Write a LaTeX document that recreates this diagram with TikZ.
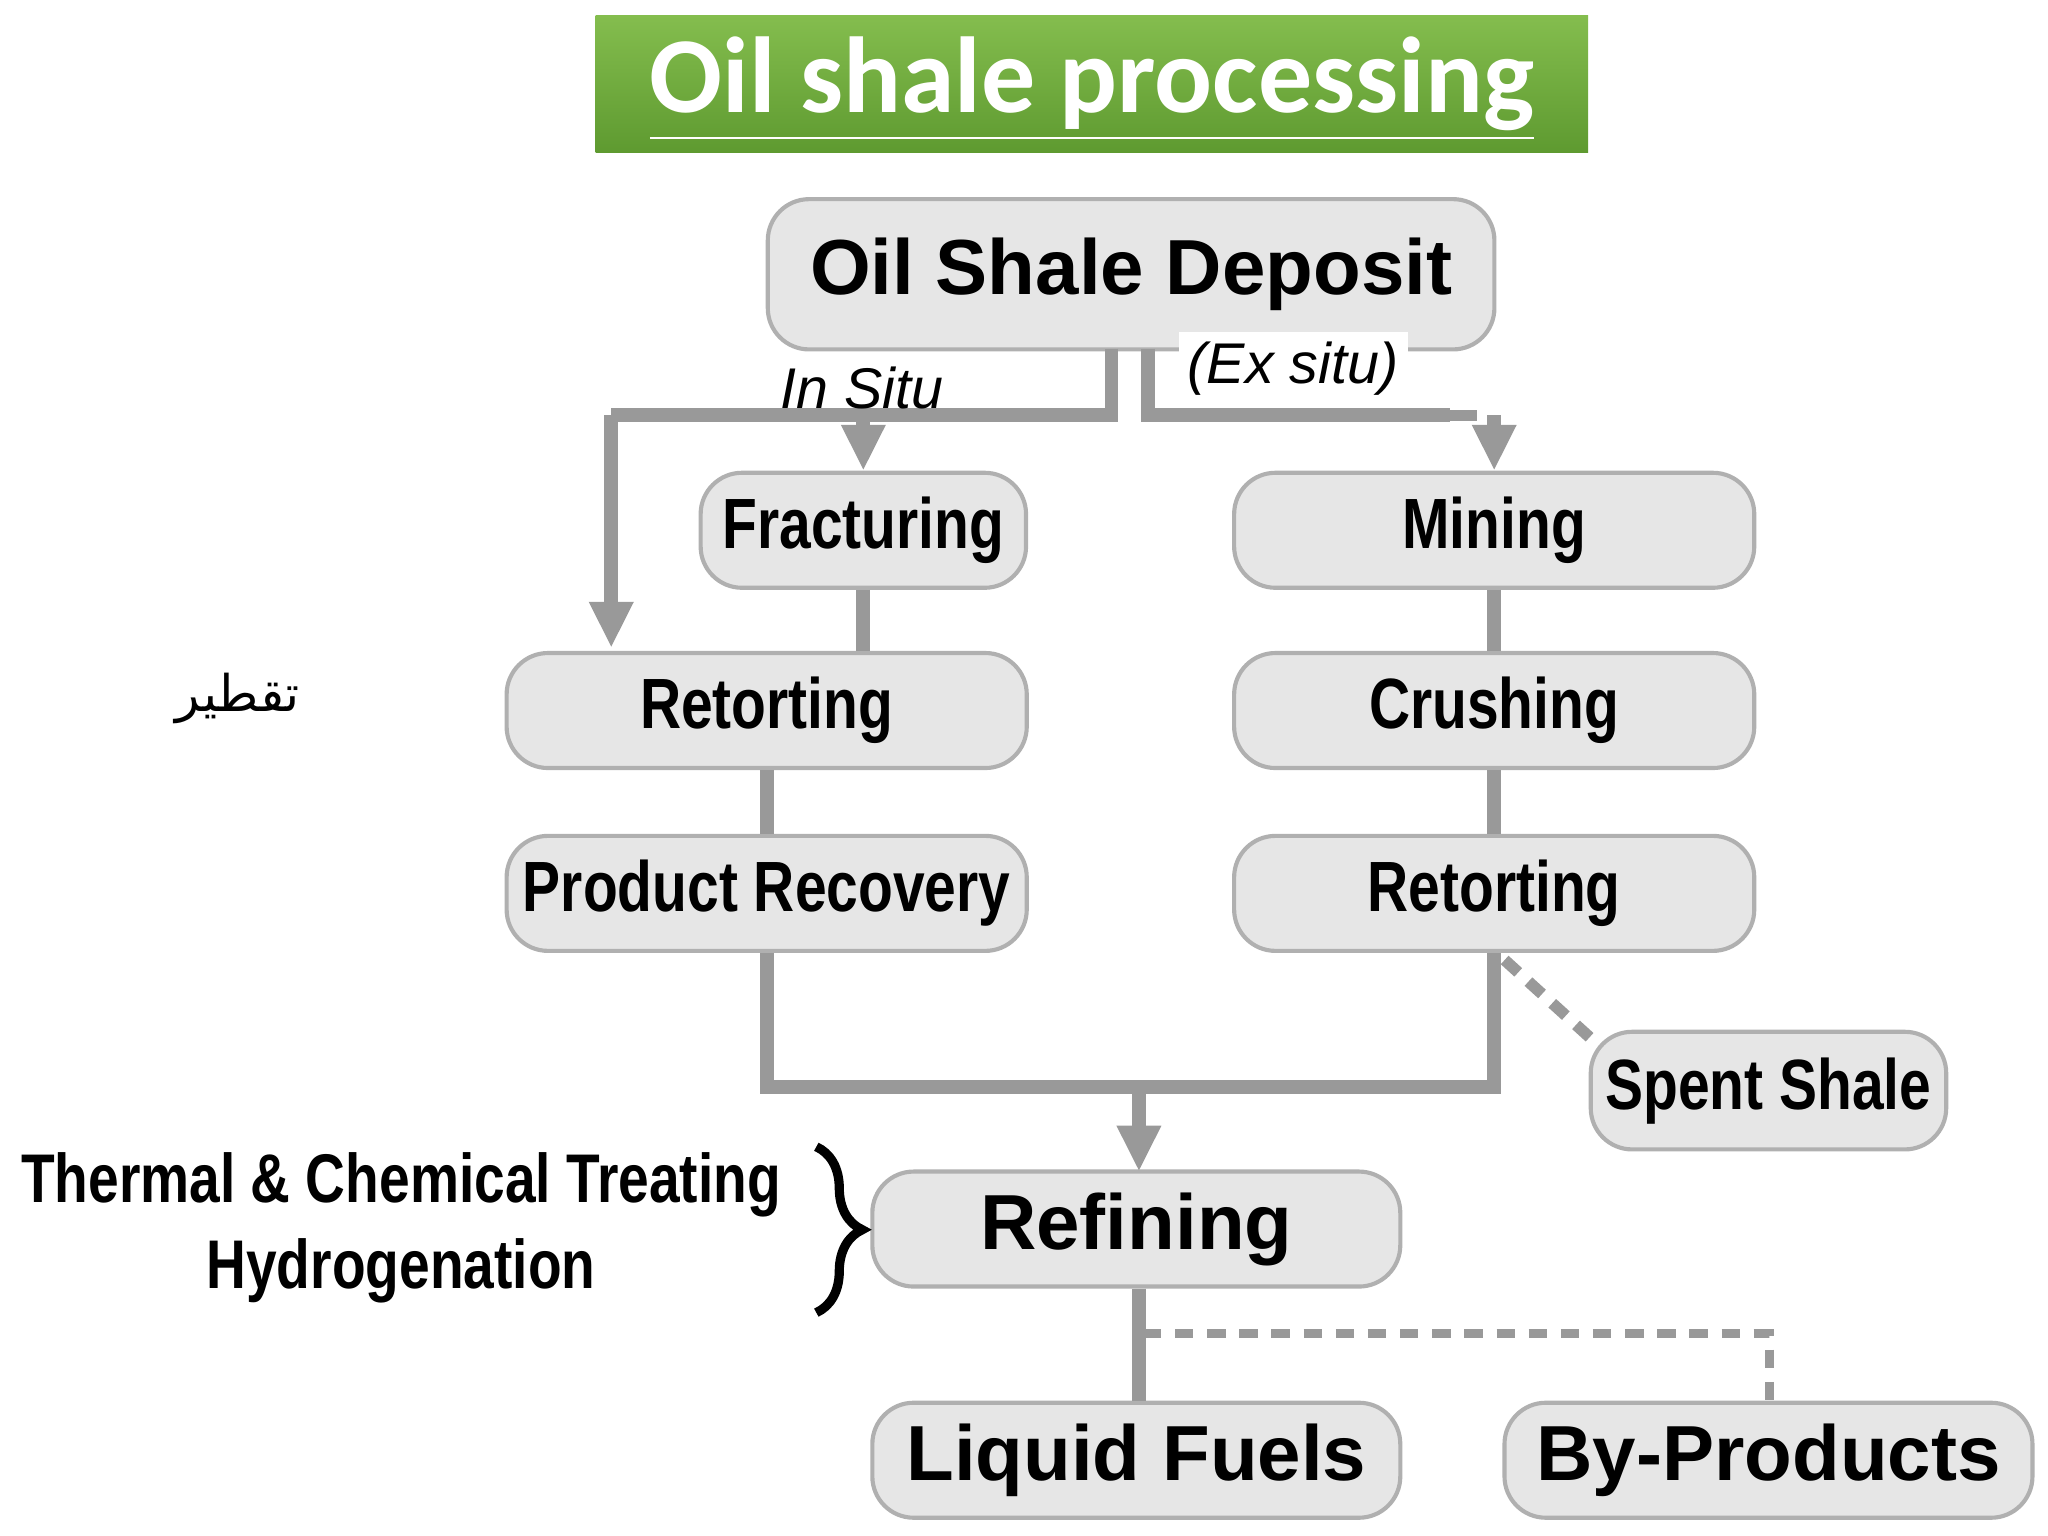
\documentclass[tikz,border=0pt]{standalone}
\usepackage{fontspec}
\setmainfont{Liberation Sans}
\newfontfamily\cond[FakeStretch=0.8]{Liberation Sans}
\newfontfamily\titlefont{Carlito}
\newfontfamily\arabicfont[Script=Arabic]{DejaVu Sans}
\TeXXeTstate=1
\usetikzlibrary{arrows.meta,decorations.pathreplacing}
\definecolor{boxfill}{HTML}{E6E6E6}
\definecolor{boxline}{HTML}{B0B0B0}
\definecolor{conn}{HTML}{999999}
\definecolor{gtop}{HTML}{84BD4E}
\definecolor{gbot}{HTML}{5E9A30}
\tikzset{
 bx/.style={draw=boxline,line width=0.9pt,fill=boxfill,rounded corners=9pt,inner sep=0pt,font=\bfseries},
 cn/.style={draw=conn,line width=3pt},
 ar/.style={cn,-{Triangle[width=9pt,length=10pt]}},
 ds/.style={cn,line width=2.5pt,dash pattern=on 6pt off 4pt},
}
\begin{document}
\begin{tikzpicture}[x=0.01cm,y=-0.01cm]
\useasboundingbox (0,0) rectangle (1568,1176);
\fill[white] (0,0) rectangle (1568,1176);
% title
\shade[top color=gtop, bottom color=gbot] (456,12) rectangle (1216,117);
\node (title) at (836,68) {\titlefont\bfseries\fontsize{23.5}{28}\selectfont\color{white}\underline{Oil shale processing}};
% boxes
\node[bx,minimum width=5.56cm,minimum height=1.15cm] (dep) at (866,210) {\fontsize{17}{20}\selectfont Oil Shale Deposit};
\node[bx,minimum width=2.49cm,minimum height=0.88cm] (frac) at (661,406) {\cond\fontsize{15.5}{18}\selectfont Fracturing};
\node[bx,minimum width=3.98cm,minimum height=0.88cm] (mine) at (1144,406) {\cond\fontsize{15.5}{18}\selectfont Mining};
\node[bx,minimum width=3.98cm,minimum height=0.88cm] (retL) at (587,544) {\cond\fontsize{15.5}{18}\selectfont Retorting};
\node[bx,minimum width=3.98cm,minimum height=0.88cm] (crush) at (1144,544) {\cond\fontsize{15.5}{18}\selectfont Crushing};
\node[bx,minimum width=3.98cm,minimum height=0.88cm] (prod) at (587,684) {\cond\fontsize{15.5}{18}\selectfont Product Recovery};
\node[bx,minimum width=3.98cm,minimum height=0.88cm] (retR) at (1144,684) {\cond\fontsize{15.5}{18}\selectfont Retorting};
\node[bx,minimum width=2.72cm,minimum height=0.90cm] (spent) at (1354,835) {\cond\fontsize{15.5}{18}\selectfont Spent Shale};
\node[bx,minimum width=4.04cm,minimum height=0.88cm] (ref) at (870,941) {\fontsize{17}{20}\selectfont Refining};
\node[bx,minimum width=4.04cm,minimum height=0.88cm] (liq) at (870,1118) {\fontsize{17}{20}\selectfont Liquid Fuels};
\node[bx,minimum width=4.04cm,minimum height=0.88cm] (by) at (1354,1118) {\fontsize{17}{20}\selectfont By-Products};
% connectors
\coordinate (a1) at (851,318); \coordinate (a2) at (468,318);
\draw[cn] (851,267) -- (a1) -- (a2);
\draw[ar] (a2) -- (468,496);
\draw[ar] (661,318) -- (frac.north);
\draw[cn] (879,267) -- (879,318) -- (1110,318);
\draw[ds] (1110,318) -- (1144,318);
\draw[ar] (1144,318) -- (mine.north);
\draw[cn] (frac.south) -- (frac.south|-retL.north);
\draw[cn] (mine.south) -- (crush.north);
\draw[cn] (crush.south) -- (retR.north);
\draw[cn] (retL.south) -- (prod.north);
\draw[cn] (prod.south) -- (587,832) -- (1144,832) -- (retR.south);
\draw[ar] (872,832) -- (872,897);
\draw[ds,dash pattern=on 4pt off 3pt] (1152,735) -- (1218,795);
\draw[cn] (ref.south-|872,0) -- (liq.north-|872,0);
\draw[ds,line width=2pt,dash pattern=on 4pt off 3pt] (875,1021) -- (1355,1021) -- (by.north-|1355,0);
% labels
\node (insitu) at (660,297) {\itshape\fontsize{12.5}{14}\selectfont In Situ};
\node[fill=white,inner sep=2pt] (exsitu) at (990,282) {\itshape\fontsize{12.5}{14}\selectfont (Ex situ)};
\node (arab) at (182,535) {\arabicfont\fontsize{11}{13}\selectfont\beginR تقطير\endR};
\node (t1) at (307,907) {\cond\bfseries\fontsize{15}{17}\selectfont Thermal \& Chemical Treating};
\node (t2) at (307,973) {\cond\bfseries\fontsize{15}{17}\selectfont Hydrogenation};
\draw[line width=2pt,decorate,decoration={brace,amplitude=10pt}] (625,878) -- (625,1005);
\end{tikzpicture}
\end{document}
